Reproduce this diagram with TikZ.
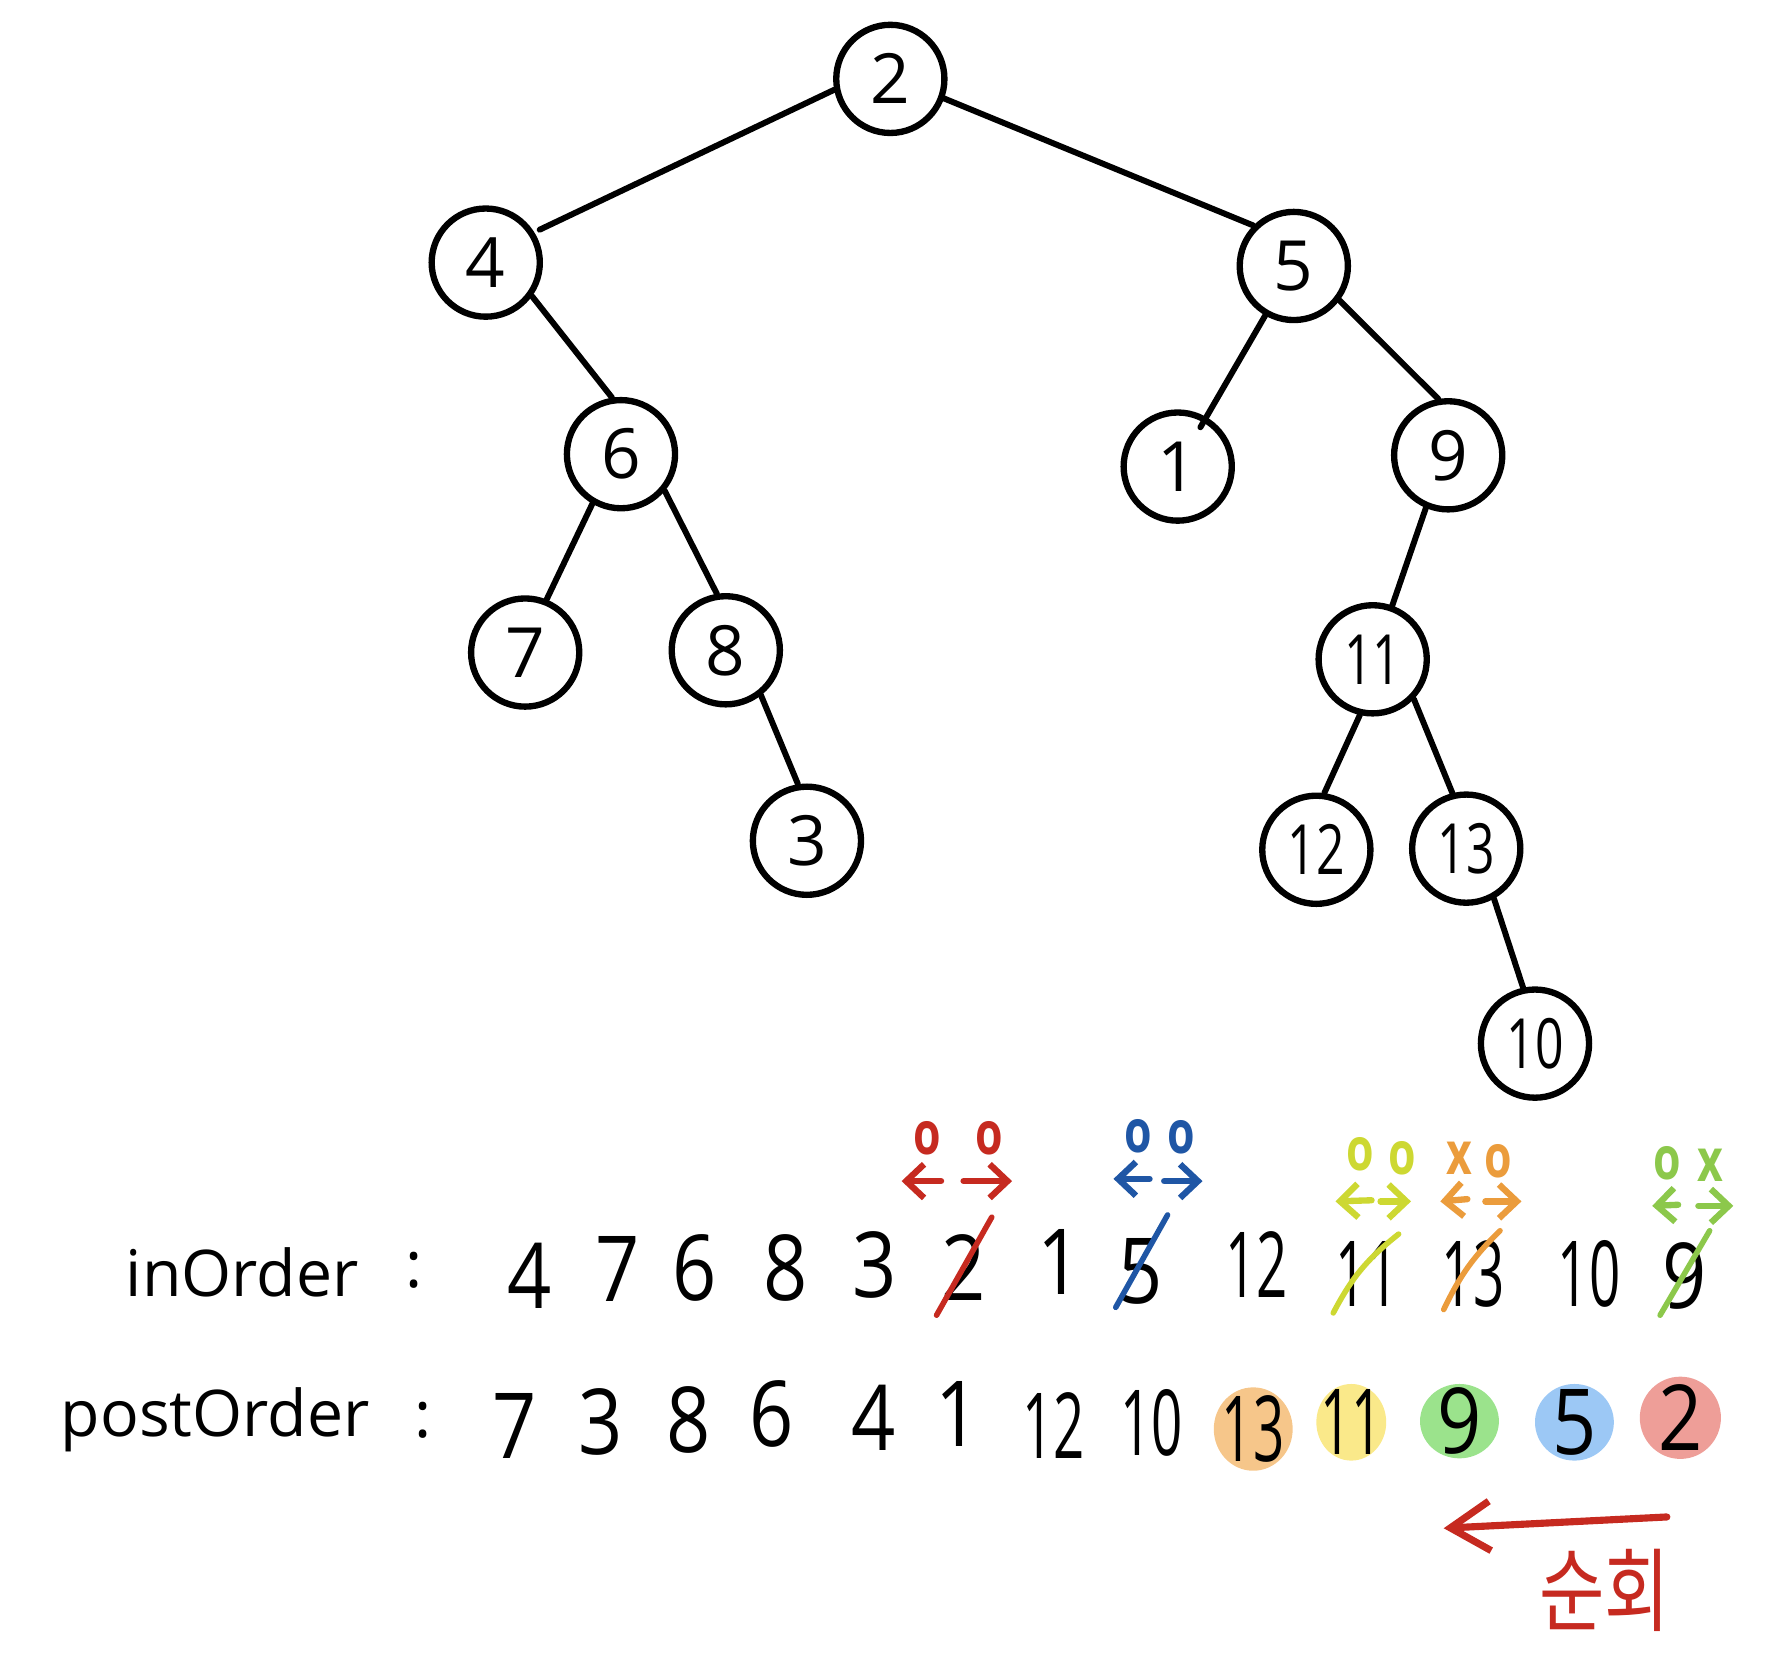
\documentclass[tikz,border=0pt]{standalone}
\usepackage{fontspec}
\setmainfont{Open Sans}
\newfontfamily\slimfont[FakeStretch=0.85]{Open Sans}
\newfontfamily\midfont[FakeStretch=0.72]{Open Sans}
\newfontfamily\thinfont[FakeStretch=0.6]{Open Sans}
\newfontfamily\markfont[FakeStretch=0.75]{Open Sans}
\newfontfamily\hangul[FakeStretch=0.78]{Noto Sans CJK KR}
\usetikzlibrary{arrows.meta,shapes.geometric}
\definecolor{markred}{HTML}{C62A20}
\definecolor{markblue}{HTML}{1F56A5}
\definecolor{markyellow}{HTML}{CDD832}
\definecolor{markorange}{HTML}{EB9C3C}
\definecolor{markgreen}{HTML}{8CC84B}
\definecolor{blobred}{HTML}{EE9E98}
\definecolor{blobblue}{HTML}{9CC8F5}
\definecolor{blobgreen}{HTML}{9BE38C}
\definecolor{blobyellow}{HTML}{FAE98A}
\definecolor{bloborange}{HTML}{F6C68A}
\tikzstyle{treenode}=[draw,circle,line width=3.2pt,minimum size=1.92cm,inner sep=0pt,font=\fontsize{35}{35}\selectfont]
\tikzstyle{treetwo}=[treenode,font=\midfont\fontsize{35}{35}\selectfont]
\tikzstyle{treeline}=[line width=3pt,line cap=round]
\tikzstyle{seq}=[inner sep=0pt,font=\slimfont\fontsize{46}{46}\selectfont]
\tikzstyle{seqtwo}=[inner sep=0pt,font=\thinfont\fontsize{46}{46}\selectfont]
\tikzstyle{word}=[inner sep=0pt,font=\fontsize{32.5}{32.5}\selectfont]
\tikzstyle{blob}=[ellipse,inner sep=-14pt]
\tikzstyle{marktext}=[inner sep=0pt,font=\markfont\bfseries\fontsize{30}{30}\selectfont]
\tikzstyle{flag}=[line width=3.2pt,line cap=round,-{Straight Barb[length=9pt,width=17pt,line width=3.2pt]}]
\tikzstyle{slash}=[line width=2.8pt,line cap=round]

\begin{document}
\begin{tikzpicture}[x=0.02cm,y=-0.02cm]
	\useasboundingbox (0,0) rectangle (1567,1484);

	% tree
	\node(n2)[treenode] at (790,70){2};
	\node(n4)[treenode] at (431,233){4};
	\node(n5)[treenode] at (1148,236){5};
	\node(n6)[treenode] at (551,403){6};
	\node(n1)[treenode] at (1045,414){1};
	\node(n9)[treenode] at (1285,404){9};
	\node(n7)[treenode] at (466,579){7};
	\node(n8)[treenode] at (644,577){8};
	\node(n11)[treetwo] at (1218,585){11};
	\node(n3)[treenode] at (716,746){3};
	\node(n12)[treetwo] at (1168,754){12};
	\node(n13)[treetwo] at (1301,753){13};
	\node(n10)[treetwo] at (1362,926){10};

	\path[treeline] (n2.191) edge[shorten >=3pt] (n4.32)
		(n2.-20) edge (n5.135)
		(n4.-36) edge (n6.99)
		(n6.-120) edge (n7.68)
		(n6.-40) edge (n8.99)
		(n8.-52) edge (n3.99)
		(n5.-120) edge[shorten >=-6pt] (n1.60)
		(n5.-37) edge (n9.100)
		(n9.-113) edge (n11.70)
		(n11.-103) edge (n12.82)
		(n11.-44) edge (n13.104)
		(n13.-61) edge (n10.102);

	% inOrder row
	\node(inlabel)[word] at (215,1129){inOrder};
	\node(incolon)[word] at (367,1127){:};
	\node(i4)[seq] at (470,1132){4};
	\node(i7)[seq] at (548,1126){7};
	\node(i6)[seq] at (616,1125){6};
	\node(i8)[seq] at (697,1125){8};
	\node(i3)[seq] at (776,1122){3};
	\node(i2)[seq] at (855,1125){2};
	\node(i1)[seq] at (940,1120){1};
	\node(i5)[seq] at (1012,1128){5};
	\node(i12)[seqtwo] at (1115,1122){12};
	\node(i11)[seqtwo] at (1213,1130){11};
	\node(i13)[seqtwo] at (1307,1130){13};
	\node(i10)[seqtwo] at (1410,1130){10};
	\node(i9)[seq] at (1495,1132){9};

	% postOrder row
	\node(postlabel)[word] at (191,1260){postOrder};
	\node(postcolon)[word] at (375,1260){:};
	\node(p7)[seq] at (457,1265){7};
	\node(p3)[seq] at (533,1262){3};
	\node(p8)[seq] at (611,1260){8};
	\node(p6)[seq] at (685,1255){6};
	\node(p4)[seq] at (775,1258){4};
	\node(p1)[seq] at (850,1255){1};
	\node(p12)[seqtwo] at (935,1265){12};
	\node(p10)[seqtwo] at (1022,1263){10};
	\node(p13)[seqtwo,blob,fill=bloborange,minimum width=1.4cm,minimum height=1.48cm] at (1112,1268){13};
	\node(p11)[seqtwo,blob,fill=blobyellow,minimum width=1.24cm,minimum height=1.36cm] at (1199,1262){11};
	\node(p9)[seq,blob,fill=blobgreen,minimum width=1.4cm,minimum height=1.32cm] at (1295,1261){9};
	\node(p5)[seq,blob,fill=blobblue,minimum width=1.4cm,minimum height=1.36cm] at (1397,1262){5};
	\node(p2)[seq,blob,fill=blobred,minimum width=1.44cm,minimum height=1.46cm] at (1491,1258){2};

	% red marks
	\node(redl)[marktext,markred] at (823,1010){o};
	\node(redr)[marktext,markred] at (878,1010){o};
	\coordinate (redla) at (835,1048);
	\coordinate (redlb) at (800,1048);
	\coordinate (redra) at (855,1048);
	\coordinate (redrb) at (898,1048);
	\coordinate (redsa) at (880,1080);
	\coordinate (redsb) at (831,1167);
	\path[flag,markred] (redla) edge (redlb)
		(redra) edge (redrb);
	\draw[slash,markred] (redsa) -- (redsb);

	% blue marks
	\node(bluel)[marktext,markblue] at (1010,1008){o};
	\node(bluer)[marktext,markblue] at (1048,1009){o};
	\coordinate (bluela) at (1020,1046);
	\coordinate (bluelb) at (988,1046);
	\coordinate (bluera) at (1033,1048);
	\coordinate (bluerb) at (1067,1048);
	\coordinate (bluesa) at (1036,1078);
	\coordinate (bluesb) at (990,1160);
	\path[flag,markblue] (bluela) edge (bluelb)
		(bluera) edge (bluerb);
	\draw[slash,markblue] (bluesa) -- (bluesb);

	% yellow marks
	\node(yell)[marktext,markyellow] at (1207,1024){o};
	\node(yelr)[marktext,markyellow] at (1244,1028){o};
	\coordinate (yella) at (1217,1065);
	\coordinate (yellb) at (1185,1066);
	\coordinate (yelra) at (1225,1066);
	\coordinate (yelrb) at (1252,1066);
	\coordinate (yelsa) at (1241,1095);
	\coordinate (yelsb) at (1183,1165);
	\path[flag,markyellow] (yella) edge (yellb)
		(yelra) edge (yelrb);
	\draw[slash,markyellow] (yelsa) to[bend right=12] (yelsb);

	% orange marks
	\node(orgl)[marktext,markorange] at (1295,1028){x};
	\node(orgr)[marktext,markorange] at (1329,1030){o};
	\coordinate (orgla) at (1302,1064);
	\coordinate (orglb) at (1278,1066);
	\coordinate (orgra) at (1318,1066);
	\coordinate (orgrb) at (1350,1066);
	\coordinate (orgsa) at (1331,1092);
	\coordinate (orgsb) at (1281,1162);
	\path[flag,markorange] (orgla) edge (orglb)
		(orgra) edge (orgrb);
	\draw[slash,markorange] (orgsa) to[bend right=10] (orgsb);

	% green marks
	\node(grnl)[marktext,markgreen] at (1479,1032){o};
	\node(grnr)[marktext,markgreen] at (1518,1034){x};
	\coordinate (grnla) at (1489,1069);
	\coordinate (grnlb) at (1466,1070);
	\coordinate (grnra) at (1507,1070);
	\coordinate (grnrb) at (1538,1070);
	\coordinate (grnsa) at (1517,1092);
	\coordinate (grnsb) at (1473,1167);
	\path[flag,markgreen] (grnla) edge (grnlb)
		(grnra) edge (grnrb);
	\draw[slash,markgreen] (grnsa) -- (grnsb);

	% direction
	\coordinate (diras) at (1479,1346);
	\coordinate (dirae) at (1281,1356);
	\draw[line width=3.6pt,line cap=round,markred,-{Straight Barb[length=20pt,width=25pt,line width=3.6pt]}] (diras) -- (dirae);
	\node(dirlabel)[inner sep=0pt,markred,font=\hangul\fontsize{46}{46}\selectfont] at (1424,1411){순회};
\end{tikzpicture}
\end{document}
